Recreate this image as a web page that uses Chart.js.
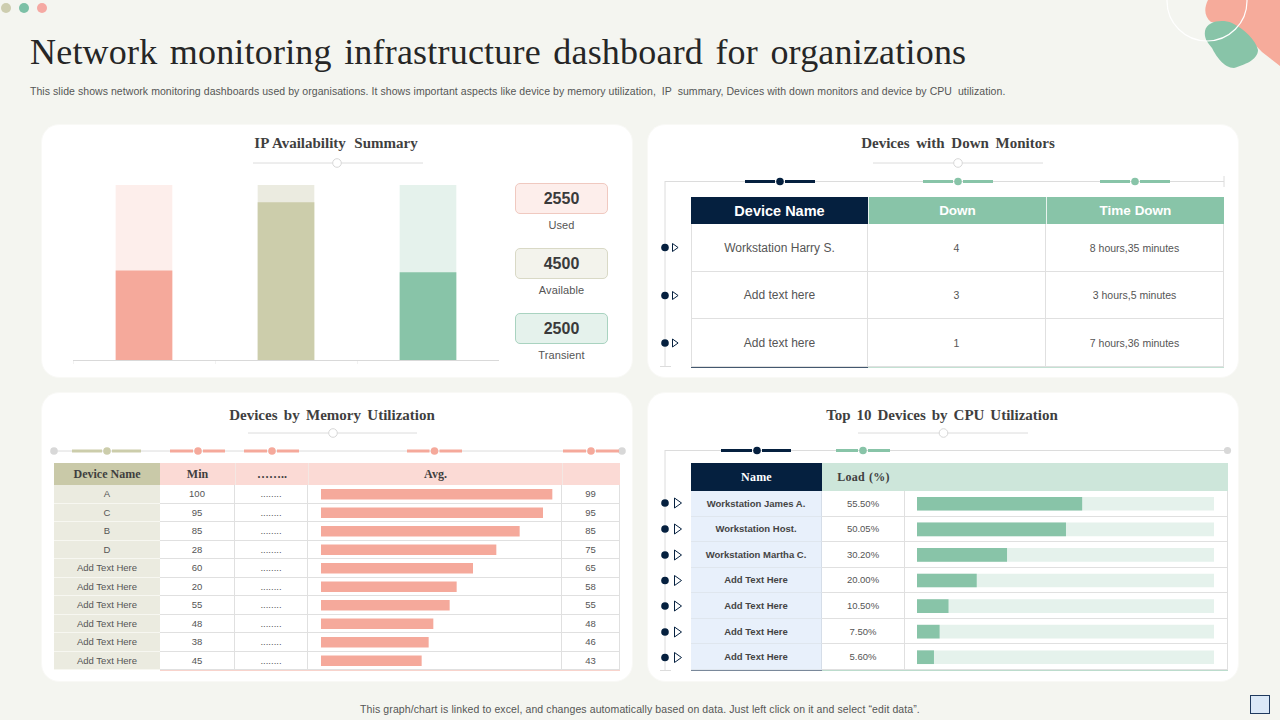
<!DOCTYPE html>
<html><head><meta charset="utf-8">
<script src="https://cdn.jsdelivr.net/npm/chart.js@4"></script>
<style>
html,body{margin:0;padding:0;width:1280px;height:720px;overflow:hidden;background:#f4f5f0;font-family:"Liberation Sans",Arial,sans-serif;color:#444}
#stage{position:absolute;left:0;top:0;width:1280px;height:720px}
.abs{position:absolute}
.c{position:absolute;display:flex;align-items:center;justify-content:center;text-align:center;box-sizing:border-box;white-space:pre}
.card{position:absolute;background:#fff;border:1px solid #f9f9f6;border-radius:18px;box-sizing:border-box}
.head{position:absolute;font:bold 15px "Liberation Serif",serif;color:#3f3f3f;word-spacing:2.6px;text-align:center;white-space:pre;transform:translateX(-50%)}
canvas{position:absolute;display:block}
</style></head>
<body><div id="stage">
<svg class="abs" style="left:0;top:0" width="1280" height="720">
 <circle cx="6" cy="8" r="5" fill="#cdcdaf"/><circle cx="24" cy="8" r="5" fill="#7cc0a6"/><circle cx="42" cy="8" r="5" fill="#f5a9a3"/>
 <path d="M1208 0 C1204 8 1204 16 1211 22 C1240 24 1254 44 1262 52 L1280 66 L1280 0 Z" fill="#f6ab9b"/>
 <path d="M1205 31 C1207 21 1222 19 1232 23 C1244 29 1256 40 1258 50 C1258 60 1244 65 1234 68 C1224 68 1216 56 1212 48 C1207 42 1204 38 1205 31 Z" fill="#88c4a8"/>
 <circle cx="1207" cy="1" r="40" fill="none" stroke="#fff" stroke-width="1.2"/>
</svg>
<div class="c" style="left:30px;top:28px;height:48px;font:36px 'Liberation Serif',serif;color:#262626;word-spacing:3.2px;letter-spacing:.2px;justify-content:flex-start" id="title">Network monitoring infrastructure dashboard for organizations</div>
<div class="c" style="left:30px;top:83px;height:16px;font-size:10.5px;letter-spacing:.06px;color:#555;justify-content:flex-start" id="sub">This slide shows network monitoring dashboards used by organisations. It shows important aspects like device by memory utilization,  IP  summary, Devices with down monitors and device by CPU  utilization.</div>
<div class="card" style="left:41px;top:124px;width:592px;height:254px"></div>
<div class="card" style="left:647px;top:124px;width:592px;height:254px"></div>
<div class="card" style="left:41px;top:392px;width:592px;height:290px"></div>
<div class="card" style="left:647px;top:392px;width:592px;height:290px"></div>
<div class="head" style="left:336px;top:135px;word-spacing:.5px">IP Availability  Summary</div>
<div class="head" style="left:958px;top:135px;word-spacing:3px">Devices with Down Monitors</div>
<div class="head" style="left:332px;top:407px">Devices by Memory Utilization</div>
<div class="head" style="left:942px;top:407px;word-spacing:2.2px">Top 10 Devices by CPU Utilization</div>
<svg class="abs" id="deco" style="left:0;top:0" width="1280" height="720"></svg>
<div id="cells"></div>
<canvas id="ipChart" width="426" height="190" style="left:73px;top:175px;width:426px;height:190px"></canvas>
<canvas id="memChart" width="254" height="185" style="left:308px;top:485px;width:254px;height:185px"></canvas>
<canvas id="cpuChart" width="323" height="179" style="left:905px;top:491px;width:323px;height:179px"></canvas>
<div class="c" style="left:0;width:1280px;top:701px;height:16px;font-size:10.5px;letter-spacing:.1px;color:#555">This graph/chart is linked to excel, and changes automatically based on data. Just left click on it and select “edit data”.</div>
<div class="abs" style="left:1250px;top:695px;width:18px;height:17px;background:#dbe9f8;border:1px solid #1f3a5f"></div>
</div>
<script>
// ---- data ----
const ipLabels = ["Used", "Available", "Transient"];
const ipValues = [2550, 4500, 2500];
const ipTotals = [5000, 5000, 5000];

const downHeaders = ["Device Name", "Down", "Time Down"];
const downNames = ["Workstation Harry S.", "Add text here", "Add text here"];
const downCounts = ["4", "3", "1"];
const downTimes = ["8 hours,35 minutes", "3 hours,5 minutes", "7 hours,36 minutes"];

const memHeaders = ["Device Name", "Min", "……..", "Avg.", ""];
const memNames = ["A", "C", "B", "D", "Add Text Here", "Add Text Here", "Add Text Here", "Add Text Here", "Add Text Here", "Add Text Here"];
const memMin = [100, 95, 85, 28, 60, 20, 55, 48, 38, 45];
const memAvg = [99, 95, 85, 75, 65, 58, 55, 48, 46, 43];

const cpuHeaders = ["Name", "Load (%)", ""];
const cpuNames = ["Workstation James A.", "Workstation Host.", "Workstation Martha C.", "Add Text Here", "Add Text Here", "Add Text Here", "Add Text Here"];
const cpuLoad = [55.50, 50.05, 30.20, 20.00, 10.50, 7.50, 5.60];
const cpuTrack = [100, 100, 100, 100, 100, 100, 100];

// ---- colours ----
const NAVY="#05203f", GREEN="#88c4a8", SALMON="#f5a99b", OLIVE="#cccdab", GRID="#e0e0e0";

// ---- html helpers ----
const cells=document.getElementById("cells");
function cell(x,y,w,h,text,st){
  const d=document.createElement("div");d.className="c";
  d.style.cssText=`left:${x}px;top:${y}px;width:${w}px;height:${h}px;`+(st||"");
  d.textContent=text;cells.appendChild(d);return d;
}
let svg="";
function line(x1,y1,x2,y2,col,w){svg+=`<line x1="${x1}" y1="${y1}" x2="${x2}" y2="${y2}" stroke="${col}" stroke-width="${w||1}"/>`;}
function dot(x,y,r,fill,stroke){svg+=`<circle cx="${x}" cy="${y}" r="${r}" fill="${fill}" ${stroke?`stroke="${stroke}"`:""}/>`;}
function seg(x1,x2,cx,y,col,h){line(x1,y,cx-5,y,col,h||3);line(cx+5,y,x2,y,col,h||3);dot(cx,y,3.8,col);}
function tri(x,y,s){svg+=`<path d="M${x} ${y-s} L${x+s*1.4} ${y} L${x} ${y+s} Z" fill="#fff" stroke="${NAVY}" stroke-width="1"/>`;}
function sep(x1,x2,cx,y){line(x1,y,x2,y,"#dcdcdc",1);dot(cx,y,4.3,"#fff","#d8d8d8");}

// title rules
sep(253,423,337,163);sep(873,1043,958,163);sep(248,417,333,433);sep(858,1028,943.5,433);

// ---- IP stat boxes ----
const ipBox=[["#fdeeeb","#f0c9c0"],["#f3f3ec","#d9d9c6"],["#e5f2ec","#a9d3c0"]];
ipValues.forEach((v,i)=>{
  const y=[183,248,313][i];
  cell(515,y,93,31,String(v),`background:${ipBox[i][0]};border:1px solid ${ipBox[i][1]};border-radius:5px;font:bold 16px "Liberation Sans";color:#3a3a3a`);
  cell(515,y+34,93,16,ipLabels[i],"font-size:11px;color:#555;letter-spacing:.1px");
});

// ---- Down monitors table ----
line(665,181.5,1224,181.5,"#dcdcdc");line(665,181,665,366,"#dcdcdc");line(1224,176,1224,187,"#dcdcdc");line(660,366.5,671,366.5,"#dcdcdc");
seg(745,815,780,181.5,NAVY);seg(923,993,958,181.5,GREEN);seg(1100,1170,1135,181.5,GREEN);
const dx=[691,868,1046,1224], dy=[224,272,319,367];
downHeaders.forEach((t,i)=>cell(dx[i],197,dx[i+1]-dx[i],27,t,`background:${i?GREEN:NAVY};color:#fff;font:bold ${i?13.5:14.5}px "Liberation Sans";${i?"border-left:1px solid #e8f3ee;":""}`));
downNames.forEach((n,r)=>{
  const brd=`border-bottom:1px solid ${GRID};border-right:1px solid ${GRID};`;
  const h=dy[r+1]-dy[r];
  cell(dx[0],dy[r],dx[1]-dx[0],h,n,brd+`border-left:1px solid ${GRID};font-size:12px;color:#555`);
  cell(dx[1],dy[r],dx[2]-dx[1],h,downCounts[r],brd+"font-size:10.5px;color:#555");
  cell(dx[2],dy[r],dx[3]-dx[2],h,downTimes[r],brd+"font-size:10.5px;color:#555");
  const my=[247.5,295.5,343][r];dot(665,my,3.8,NAVY);tri(672.5,my,4);
});
line(691,367,868,367,NAVY,1.5);line(868,367,1224,367,GREEN,1.2);

// ---- Memory table ----
line(54,451,621,451,"#dcdcdc");dot(54,451,3.8,"#d8d8d8");dot(622,451,3.8,"#d8d8d8");
seg(72,141,107,451,OLIVE);seg(170,225,198,451,SALMON);seg(244,299,272,451,SALMON);seg(407,462,434.5,451,SALMON);seg(563,619,591,451,SALMON);
const mx=[54,160,235,308,562,620], my=[485,503.5,522,540.5,559,577.5,596,614.5,633,651.5,670];
memHeaders.forEach((t,i)=>cell(mx[i],463,mx[i+1]-mx[i],22,t,`background:${i?"#fbdad5":"#c9c9a8"};color:#3f3f3f;font:bold 12px "Liberation Serif";${i>1?"border-left:1px solid #f3e7e3;":""}`));
memNames.forEach((n,r)=>{
  const y=my[r],h=my[r+1]-my[r],b=`border-bottom:1px solid ${GRID};border-right:1px solid ${GRID};`;
  cell(mx[0],y,mx[1]-mx[0],h,n,`background:#ebebe0;border-bottom:1px solid #f7f7f1;font-size:9.5px;color:#555`);
  cell(mx[1],y,mx[2]-mx[1],h,String(memMin[r]),b+"font-size:9.5px;color:#555");
  cell(mx[2],y,mx[3]-mx[2],h,"........",b+"font-size:9.5px;color:#555");
  cell(mx[3],y,mx[4]-mx[3],h,"",b);
  cell(mx[4],y,mx[5]-mx[4],h,String(memAvg[r]),b+"font-size:9.5px;color:#555");
});
line(160,670,620,670,"#f6c5bb",1.5);

// ---- CPU table ----
line(665,450.5,1228,450.5,"#dcdcdc");line(665,450,665,670,"#dcdcdc");line(660,670.5,671,670.5,"#dcdcdc");dot(1227.5,450.5,3.6,"#d8d8d8");
seg(721,791,757,450.5,NAVY);seg(836,890,863,450.5,GREEN);
const cx=[691,822,905,1228], cy=[491,516.6,542,567.6,593,618.8,644.4,670];
cpuHeaders.forEach((t,i)=>cell(cx[i],463,cx[i+1]-cx[i],28,t,`background:${i?"#cde6da":NAVY};color:${i?"#3f3f3f":"#fff"};font:bold 12px "Liberation Serif";letter-spacing:.2px;word-spacing:1px`));
const cpuMarks=[503,529,555,580.5,606,632,657.5];
cpuNames.forEach((n,r)=>{
  const y=cy[r],h=cy[r+1]-cy[r],b=`border-bottom:1px solid ${GRID};border-right:1px solid ${GRID};`;
  cell(cx[0],y,cx[1]-cx[0],h,n,`background:#e8f0fb;border-bottom:1px solid #dfe6ee;border-right:1px solid #d5dde8;font:bold 9.5px "Liberation Sans";color:#444`);
  cell(cx[1],y,cx[2]-cx[1],h,cpuLoad[r].toFixed(2)+"%",b+"font-size:9.5px;color:#555");
  cell(cx[2],y,cx[3]-cx[2],h,"",b);
  dot(665,cpuMarks[r],3.8,NAVY);tri(674.5,cpuMarks[r],5);
});
line(691,670,822,670,"#7a899b",2);line(822,670,1228,670,"#bcdccd",2);
document.getElementById("deco").innerHTML=svg;

// ---- charts ----
Chart.defaults.animation=false;
const base={responsive:false,maintainAspectRatio:false,devicePixelRatio:1,plugins:{legend:{display:false},tooltip:{enabled:false}},events:[]};

new Chart(document.getElementById("ipChart"),{type:"bar",data:{labels:ipLabels,datasets:[
  {data:ipValues,backgroundColor:[SALMON,OLIVE,GREEN],order:1,barThickness:56,grouped:false},
  {data:ipTotals,backgroundColor:["#fdeeeb","#ebebe0","#e5f2ec"],order:2,barThickness:56,grouped:false}
]},options:{...base,layout:{padding:{top:10,bottom:1,left:0,right:0}},
  scales:{
    x:{grid:{display:true,drawOnChartArea:false,tickLength:4,color:"#f2f2f2"},border:{color:"#d9d9d9"},ticks:{display:false}},
    y:{display:false,min:0,max:5000}
  }}});

new Chart(document.getElementById("memChart"),{type:"bar",data:{labels:memNames.map((n,i)=>i+1),datasets:[
  {data:memAvg,backgroundColor:SALMON,barThickness:10}
]},options:{...base,indexAxis:"y",layout:{padding:{left:13,right:7.67,top:0,bottom:0}},
  scales:{x:{display:false,min:0,max:100},y:{display:false}}}});

new Chart(document.getElementById("cpuChart"),{type:"bar",data:{labels:cpuNames.map((n,i)=>i+1),datasets:[
  {data:cpuLoad,backgroundColor:GREEN,barThickness:13,order:1,grouped:false},
  {data:cpuTrack,backgroundColor:"#e5f2ec",barThickness:13,order:2,grouped:false}
]},options:{...base,indexAxis:"y",layout:{padding:{left:12,right:14,top:0,bottom:0}},
  scales:{x:{display:false,min:0,max:100},y:{display:false}}}});
</script>
</body></html>
